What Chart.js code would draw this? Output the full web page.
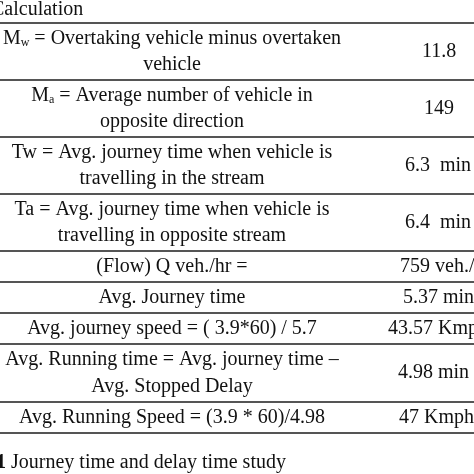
<!DOCTYPE html>
<html lang="en">
<head>
  <meta charset="UTF-8" />
  <title>Journey time and delay time study</title>
  <script src="https://cdn.jsdelivr.net/npm/chart.js"></script>
  <style>
    html, body { margin: 0; padding: 0; background: #fff; }
    #wrap { width: 474px; height: 474px; }
  </style>
</head>
<body>
  <div id="wrap"><canvas id="tableChart"></canvas></div>
  <script>
    // table content ("_x" marks a subscript letter)
    const descriptions = [
      ['M_w = Overtaking vehicle minus overtaken', 'vehicle'],
      ['M_a = Average number of vehicle in', 'opposite direction'],
      ['Tw = Avg. journey time when vehicle is', 'travelling in the stream'],
      ['Ta = Avg. journey time when vehicle is', 'travelling in opposite stream'],
      ['(Flow) Q veh./hr ='],
      ['Avg. Journey time'],
      ['Avg. journey speed = ( 3.9*60) / 5.7'],
      ['Avg. Running time = Avg. journey time \u2013', 'Avg. Stopped Delay'],
      ['Avg. Running Speed = (3.9 * 60)/4.98']
    ];
    const results = ['11.8', '149', '6.3  min', '6.4  min', '759 veh./hr', '5.37 min', '43.57 Kmph', '4.98 min', '47 Kmph'];
    const headerText = 'Calculation';
    const captionNum = '1';
    const captionText = ' Journey time and delay time study';

    // layout (page pixels)
    const rowLines = [23, 80, 137, 194, 251, 282, 313, 344, 402, 433];
    const leftCenter = 172, rightCenter = 439;

    function drawRich(ctx, str, cx, y, size) {
      const parts = str.split(/_(\w)/);
      const big = size + 'px "Liberation Serif", serif';
      const small = Math.round(size * 0.6) + 'px "Liberation Serif", serif';
      let w = 0;
      parts.forEach((p, i) => { ctx.font = i % 2 ? small : big; w += ctx.measureText(p).width; });
      let x = cx - w / 2;
      ctx.textAlign = 'left';
      parts.forEach((p, i) => {
        ctx.font = i % 2 ? small : big;
        ctx.fillText(p, x, i % 2 ? y + size * 0.22 : y);
        x += ctx.measureText(p).width;
      });
    }

    const tablePlugin = {
      id: 'tablePlugin',
      afterDraw(chart) {
        const { ctx, scales: { x, y } } = chart;
        const fs = 20;
        ctx.save();
        ctx.fillStyle = '#111';
        ctx.textBaseline = 'middle';
        ctx.font = fs + 'px "Liberation Serif", serif';
        ctx.textAlign = 'left';
        ctx.fillText(headerText, x.getPixelForValue(-9), y.getPixelForValue(10));

        ctx.strokeStyle = '#555';
        ctx.lineWidth = 2;
        rowLines.forEach(v => {
          ctx.beginPath();
          ctx.moveTo(x.getPixelForValue(0), y.getPixelForValue(v));
          ctx.lineTo(x.getPixelForValue(474), y.getPixelForValue(v));
          ctx.stroke();
        });

        descriptions.forEach((lines, i) => {
          const top = rowLines[i], bot = rowLines[i + 1];
          const mid = (top + bot) / 2;
          const lh = 26.5;
          lines.forEach((ln, j) => {
            const ty = mid + (j - (lines.length - 1) / 2) * lh;
            drawRich(ctx, ln, x.getPixelForValue(leftCenter), y.getPixelForValue(ty), fs);
          });
        });

        chart.data.datasets[0].data.forEach((pt, i) => {
          const mid = (rowLines[i] + rowLines[i + 1]) / 2;
          ctx.font = fs + 'px "Liberation Serif", serif';
          ctx.textAlign = 'left';
          const startX = x.getPixelForValue(rightCenter) - Math.min(ctx.measureText(results[i]).width, 34) / 2;
          ctx.fillText(results[i], i >= 2 && i !== 1 ? x.getPixelForValue(pt.x) : startX, y.getPixelForValue(mid));
        });

        const cy = y.getPixelForValue(463);
        ctx.font = 'bold ' + fs + 'px "Liberation Serif", serif';
        ctx.fillText(captionNum, x.getPixelForValue(-4), cy);
        const nw = ctx.measureText(captionNum).width;
        ctx.font = fs + 'px "Liberation Serif", serif';
        ctx.fillText(captionText, x.getPixelForValue(-4) + nw, cy);
        ctx.restore();
      }
    };

    // value starting positions in the right column
    const resultStart = [422, 424, 405, 405, 400, 403, 388, 398, 399];

    new Chart(document.getElementById('tableChart'), {
      type: 'scatter',
      data: {
        datasets: [{
          data: results.map((r, i) => ({ x: resultStart[i], y: (rowLines[i] + rowLines[i + 1]) / 2 })),
          pointRadius: 0
        }]
      },
      options: {
        responsive: true,
        maintainAspectRatio: false,
        animation: false,
        layout: { padding: 0 },
        plugins: { legend: { display: false }, tooltip: { enabled: false } },
        scales: {
          x: { type: 'linear', min: 0, max: 474, display: false },
          y: { type: 'linear', min: 0, max: 474, reverse: true, display: false }
        }
      },
      plugins: [tablePlugin]
    });
  </script>
</body>
</html>
